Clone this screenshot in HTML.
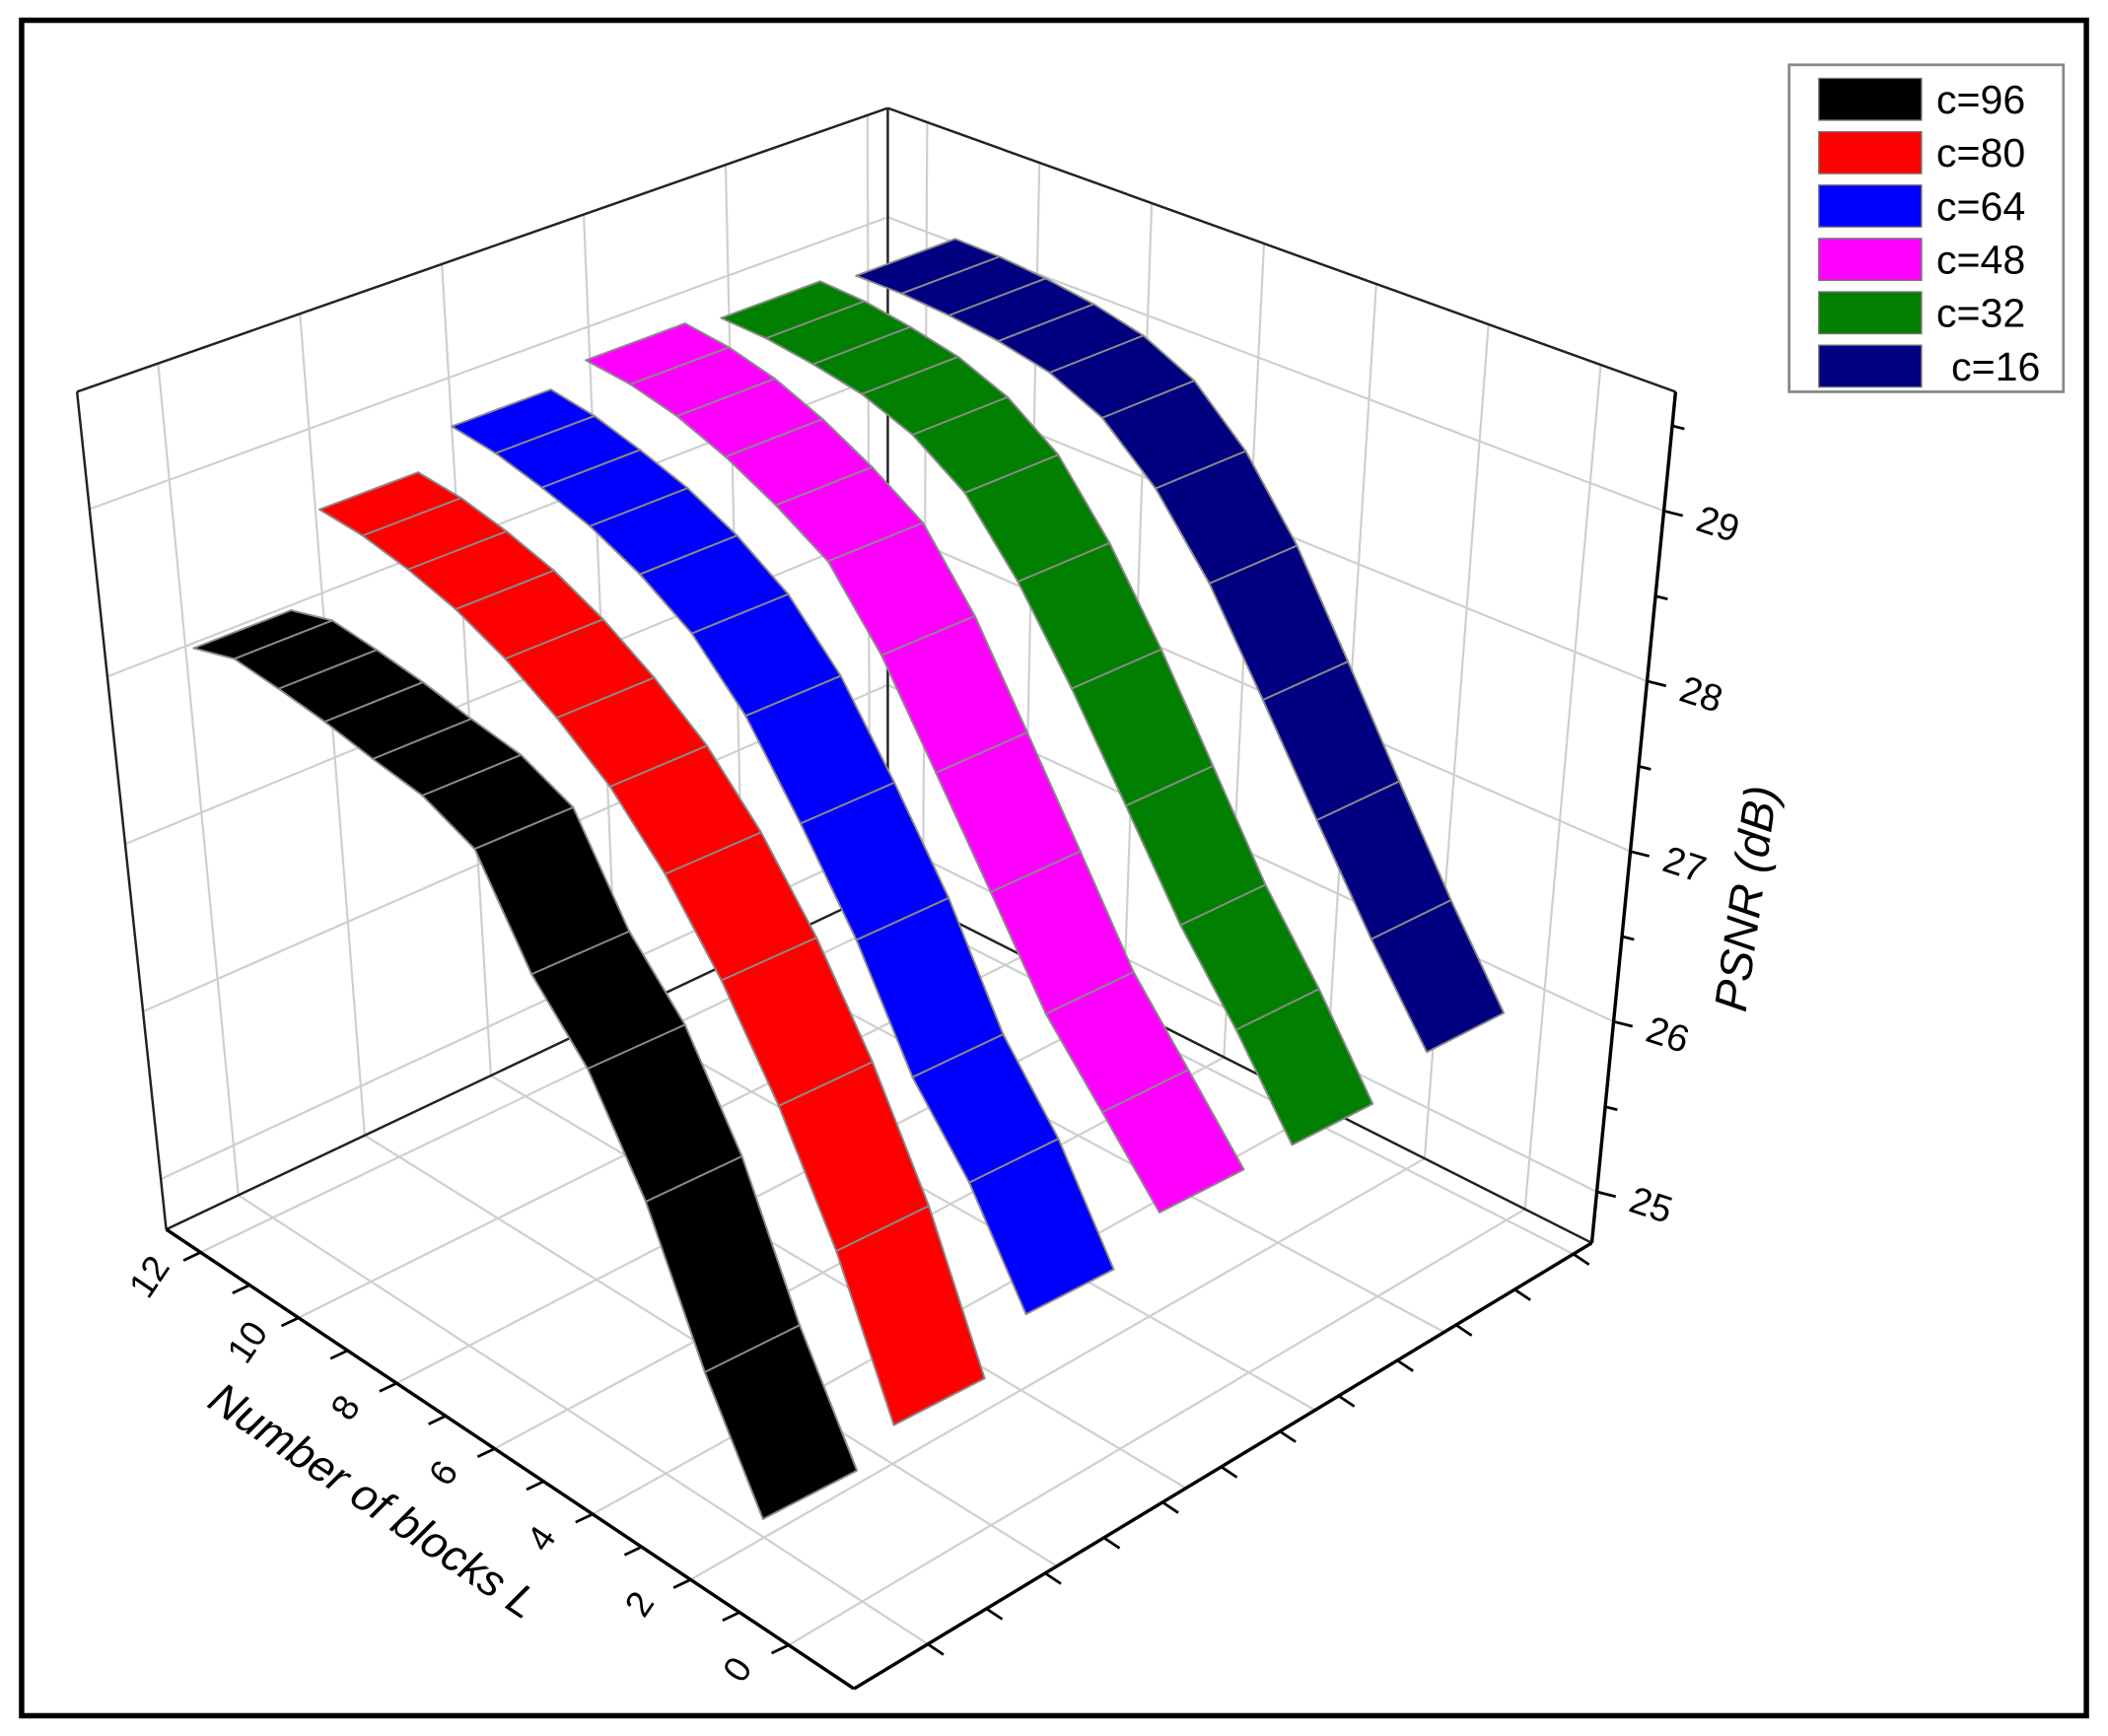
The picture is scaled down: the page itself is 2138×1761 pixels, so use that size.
<!DOCTYPE html>
<html><head><meta charset="utf-8"><title>PSNR vs blocks 3D ribbon chart</title>
<style>
html,body{margin:0;padding:0;background:#fff;}
svg{display:block;}
text{font-family:"Liberation Sans",Arial,sans-serif;}
</style></head>
<body>
<svg id="chart" width="2138" height="1761" viewBox="0 0 1560 1285" preserveAspectRatio="none" xmlns="http://www.w3.org/2000/svg">
<rect x="0" y="0" width="1560" height="1285" fill="#fff"/>
<rect x="16" y="15" width="1528" height="1255" fill="none" stroke="#000" stroke-width="4"/>
<g id="grid"></g>
<g id="box"></g>
<g id="ribbons"></g>
<g id="axes"></g>
<g id="legend"></g>
</svg>
<script>
// ---- data ----
const seriesNames = ["c=96","c=80","c=64","c=48","c=32","c=16"];
const seriesColors = ["#000000","#ff0000","#0000ff","#ff00ff","#007f00","#000080"];
const blocksL = [12,11,10,9,8,7,6,5,4,3,2,1];
const psnrC96 = [27.97,28.04,28.00,27.95,27.88,27.82,27.67,27.11,26.74,26.16,25.38,24.75];
const psnrC80 = [28.50,28.47,28.40,28.30,28.15,27.95,27.70,27.35,26.90,26.35,25.70,24.90];
const psnrC64 = [28.70,28.66,28.58,28.48,28.33,28.12,27.78,27.30,26.78,26.15,25.72,25.15];
const psnrC48 = [28.80,28.77,28.70,28.58,28.42,28.22,27.80,27.25,26.70,26.15,25.75,25.35];
const psnrC32 = [28.75,28.74,28.70,28.64,28.52,28.30,27.90,27.40,26.85,26.30,25.85,25.35];
const psnrC16 = [28.70,28.70,28.68,28.64,28.57,28.42,28.12,27.68,27.12,26.55,26.00,25.50];
const zTicks = [25,26,27,28,29];
const lTickLabels = [12,10,8,6,4,2,0];

const allSeries = [psnrC96,psnrC80,psnrC64,psnrC48,psnrC32,psnrC16];
const NS="http://www.w3.org/2000/svg";
// ---- projection ----
const A=[123,910],B=[632,1250],C=[1178,920],D=[657,657];
const A2=[57,290],B2=[632,577],C2=[1240,290],D2=[657,80];
function bil(p00,p10,p11,p01,s,t){
  return [(1-s)*(1-t)*p00[0]+s*(1-t)*p10[0]+s*t*p11[0]+(1-s)*t*p01[0],
          (1-s)*(1-t)*p00[1]+s*(1-t)*p10[1]+s*t*p11[1]+(1-s)*t*p01[1]];
}
function P(s,t,h){
  const f=bil(A,B,C,D,s,t), u=bil(A2,B2,C2,D2,s,t);
  return [f[0]+(u[0]-f[0])*h, f[1]+(u[1]-f[1])*h];
}
const zMin=24.7,zMax=29.7;
function hOf(z){return (z-zMin)/(zMax-zMin);}
function sTick(L){return 0.05+(12-L)/12*0.855;}
const Lmax=Math.max(...blocksL),Lmin=Math.min(...blocksL);
function sRib(L,t){const u=(Lmax-L)/(Lmax-Lmin);const e=0.745+0.05*t;return e*(0.8*u+0.2*u*u);}
function mk(tag,attrs,parent){const e=document.createElementNS(NS,tag);for(const k in attrs)e.setAttribute(k,attrs[k]);parent.appendChild(e);return e;}
function pt(p){return p[0].toFixed(1)+","+p[1].toFixed(1);}

const grid=document.getElementById('grid');
const cGrid=[0.1,0.275,0.45,0.625,0.8,0.975];
const lGrid=[12,10,8,6,4,2,0];
cGrid.forEach(t=>{const l=mk('line',{},grid);


const a=P(0,t,0),b=P(0,t,1);l.setAttribute('x1',a[0]);l.setAttribute('y1',a[1]);l.setAttribute('x2',b[0]);l.setAttribute('y2',b[1]);l.setAttribute('stroke','#cfcfcf');l.setAttribute('stroke-width','1.6');});
zTicks.forEach(z=>{[[0,0,0,1],[0,1,1,1]].forEach(q=>{const l=mk('line',{},grid);


const h=hOf(z);const a=P(q[0],q[1],h),b=P(q[2],q[3],h);l.setAttribute('x1',a[0]);l.setAttribute('y1',a[1]);l.setAttribute('x2',b[0]);l.setAttribute('y2',b[1]);l.setAttribute('stroke','#cfcfcf');l.setAttribute('stroke-width','1.6');});});
lGrid.forEach(L=>{const l=mk('line',{},grid);


const s=sTick(L);const a=P(s,1,0),b=P(s,1,1);l.setAttribute('x1',a[0]);l.setAttribute('y1',a[1]);l.setAttribute('x2',b[0]);l.setAttribute('y2',b[1]);l.setAttribute('stroke','#cfcfcf');l.setAttribute('stroke-width','1.6');});
lGrid.forEach(L=>{const l=mk('line',{},grid);


const s=sTick(L);const a=P(s,0,0),b=P(s,1,0);l.setAttribute('x1',a[0]);l.setAttribute('y1',a[1]);l.setAttribute('x2',b[0]);l.setAttribute('y2',b[1]);l.setAttribute('stroke','#cfcfcf');l.setAttribute('stroke-width','1.6');});
cGrid.forEach(t=>{const l=mk('line',{},grid);


const a=P(0,t,0),b=P(1,t,0);l.setAttribute('x1',a[0]);l.setAttribute('y1',a[1]);l.setAttribute('x2',b[0]);l.setAttribute('y2',b[1]);l.setAttribute('stroke','#cfcfcf');l.setAttribute('stroke-width','1.6');});

const box=document.getElementById('box');
[[A,D],[D,C],[A,A2],[D,D2],[A2,D2],[D2,C2]].forEach(e=>{const l=mk('line',{},box);


l.setAttribute('x1',e[0][0]);l.setAttribute('y1',e[0][1]);l.setAttribute('x2',e[1][0]);l.setAttribute('y2',e[1][1]);l.setAttribute('stroke','#222');l.setAttribute('stroke-width','1.8');});

const rib=document.getElementById('ribbons');
for(let i=allSeries.length-1;i>=0;i--){
  const vals=allSeries[i];const t0=0.11+0.17*i;
  const g=mk('g',{},rib);
  
  
  for(let k=0;k<blocksL.length-1;k++){
    const sa=sRib(blocksL[k],t0),sb=sRib(blocksL[k+1],t0);
    const wa=0.125*(1-0.28*sa*t0),wb=0.125*(1-0.28*sb*t0);
    const sa2=sRib(blocksL[k],t0+wa),sb2=sRib(blocksL[k+1],t0+wb);
    const ha=hOf(vals[k]),hb=hOf(vals[k+1]);
    const poly=mk('polygon',{},g);
    
    
    poly.setAttribute('points',[P(sa,t0,ha),P(sa2,t0+wa,ha),P(sb2,t0+wb,hb),P(sb,t0,hb)].map(pt).join(' '));
    poly.setAttribute('fill',seriesColors[i]);poly.setAttribute('stroke','#8a8a8a');poly.setAttribute('stroke-width','1.4');poly.setAttribute('stroke-linejoin','round');
  }
}

const ax=document.getElementById('axes');
function line(a,b,w,name){const l=mk('line',{},ax);


l.setAttribute('x1',a[0]);l.setAttribute('y1',a[1]);l.setAttribute('x2',b[0]);l.setAttribute('y2',b[1]);l.setAttribute('stroke','#000');l.setAttribute('stroke-width',w);}
line(A,B,2.5,'l-axis-line');line(B,C,2.5,'c-axis-line');line(C,C2,2.5,'z-axis-line');
const da=[A[0]-D[0],A[1]-D[1]];const dl=Math.hypot(da[0],da[1]);const on=[da[0]/dl,da[1]/dl];
for(let L=0;L<=12;L++){const p=P(sTick(L),0,0);line(p,[p[0]+on[0]*14,p[1]+on[1]*14],2,'l-axis-tick');}
lTickLabels.forEach(L=>{const p=P(sTick(L),0,0);const x=p[0]+on[0]*42,y=p[1]+on[1]*42;
const tx=mk('text',{},ax);


tx.setAttribute('x',x);tx.setAttribute('y',y);tx.setAttribute('font-size','27');tx.setAttribute('text-anchor','middle');tx.setAttribute('dominant-baseline','central');tx.setAttribute('transform','rotate(-56 '+x+' '+y+')');tx.textContent=L;});
const ab=[B[0]-A[0],B[1]-A[1]];const abl=Math.hypot(ab[0],ab[1]);const on2=[ab[0]/abl,ab[1]/abl];
for(let k=0;k<=11;k++){const t=0.1+0.0875*k*(0.875/0.9625);const p=P(1,t,0);line(p,[p[0]+on2[0]*14,p[1]+on2[1]*14],2,'c-axis-tick');}
for(let z=25;z<=29.5;z+=0.5){const p=P(1,1,hOf(z));const len=(z%1===0)?14:9;line(p,[p[0]+len,p[1]+len*0.25],2,'z-axis-tick');}
zTicks.forEach(z=>{const p=P(1,1,hOf(z));const x=p[0]+40,y=p[1]+10;
const tx=mk('text',{},ax);


tx.setAttribute('x',x);tx.setAttribute('y',y);tx.setAttribute('font-size','28');tx.setAttribute('text-anchor','middle');tx.setAttribute('dominant-baseline','central');tx.setAttribute('transform','rotate(18 '+x+' '+y+')');tx.textContent=z;});

const t1=document.createElementNS(NS,'text');


t1.setAttribute('x','270');t1.setAttribute('y','1120');t1.setAttribute('font-size','33');t1.setAttribute('font-style','italic');t1.setAttribute('text-anchor','middle');t1.setAttribute('transform','rotate(34 270 1120)');t1.textContent='Number of blocks L';ax.appendChild(t1);
const t2=document.createElementNS(NS,'text');


t2.setAttribute('x','1292');t2.setAttribute('y','665');t2.setAttribute('font-size','34');t2.setAttribute('font-style','italic');t2.setAttribute('text-anchor','middle');t2.setAttribute('dominant-baseline','central');t2.setAttribute('transform','rotate(-82 1292 665)');t2.textContent='PSNR (dB)';ax.appendChild(t2);

const lg=document.getElementById('legend');
const fr=document.createElementNS(NS,'rect');


fr.setAttribute('x','1324');fr.setAttribute('y','48');fr.setAttribute('width','203');fr.setAttribute('height','242');fr.setAttribute('fill','#fff');fr.setAttribute('stroke','#888');fr.setAttribute('stroke-width','2');lg.appendChild(fr);
seriesNames.forEach((n,i)=>{
  const y=58+i*39.5;
  const r=document.createElementNS(NS,'rect');
  
  
  r.setAttribute('x','1346');r.setAttribute('y',y);r.setAttribute('width','76');r.setAttribute('height','31');r.setAttribute('fill',seriesColors[i]);r.setAttribute('stroke','#777');r.setAttribute('stroke-width','1');lg.appendChild(r);
  const tx=document.createElementNS(NS,'text');
  
  
  tx.setAttribute('x',i===5?'1444':'1433');tx.setAttribute('y',y+26);tx.setAttribute('font-size','30');tx.textContent=n;lg.appendChild(tx);
});
</script>
</body></html>
